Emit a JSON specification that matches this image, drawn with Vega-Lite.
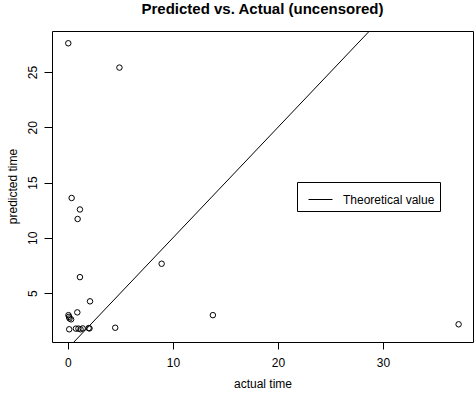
{
  "$schema": "https://vega.github.io/schema/vega-lite/v6.json",
  "width": 421,
  "height": 311,
  "autosize": "none",
  "padding": {"left": 52, "top": 31, "right": 1, "bottom": 52},
  "background": "white",
  "title": {
    "text": "Predicted vs. Actual (uncensored)",
    "font": "Liberation Sans",
    "fontSize": 15,
    "fontWeight": "bold",
    "color": "black",
    "anchor": "middle",
    "baseline": "alphabetic",
    "offset": 2
  },
  "config": {
    "view": {"stroke": "black", "strokeWidth": 1},
    "font": "Liberation Sans",
    "axis": {
      "domain": false,
      "grid": false,
      "tickColor": "black",
      "labelColor": "black",
      "titleColor": "black",
      "labelFont": "Liberation Sans",
      "titleFont": "Liberation Sans",
      "labelFontSize": 12,
      "titleFontSize": 12,
      "titleFontWeight": "normal"
    }
  },
  "layer": [
    {
      "data": {"values": [
        {"actual": -5, "predicted": -5},
        {"actual": 45, "predicted": 45}
      ]},
      "mark": {"type": "line", "clip": true, "strokeWidth": 1},
      "encoding": {
        "x": {"field": "actual", "type": "quantitative"},
        "y": {"field": "predicted", "type": "quantitative"},
        "stroke": {
          "datum": "Theoretical value",
          "type": "nominal",
          "scale": {"range": ["black"]},
          "legend": {
            "title": null,
            "orient": "none",
            "legendX": 245,
            "legendY": 151,
            "direction": "vertical",
            "strokeColor": "black",
            "padding": 5,
            "symbolType": "stroke",
            "symbolSize": 576,
            "symbolOffset": 6,
            "symbolStrokeWidth": 1,
            "labelFontSize": 12,
            "labelColor": "black",
            "labelFont": "Liberation Sans",
            "labelOffset": 10,
            "cornerRadius": 0
          }
        }
      }
    },
    {
      "data": {"values": [
        {"actual": 0.03, "predicted": 27.6},
        {"actual": 4.9, "predicted": 25.4},
        {"actual": 0.35, "predicted": 13.6},
        {"actual": 1.14, "predicted": 12.56},
        {"actual": 0.92, "predicted": 11.7},
        {"actual": 1.14, "predicted": 6.44},
        {"actual": 8.92, "predicted": 7.65},
        {"actual": 2.1, "predicted": 4.25},
        {"actual": 0.89, "predicted": 3.25},
        {"actual": 0.05, "predicted": 3.0},
        {"actual": 0.1, "predicted": 2.85},
        {"actual": 0.15, "predicted": 2.7},
        {"actual": 0.3, "predicted": 2.62},
        {"actual": 0.12, "predicted": 1.72},
        {"actual": 0.76, "predicted": 1.78},
        {"actual": 1.0, "predicted": 1.78},
        {"actual": 1.2, "predicted": 1.72},
        {"actual": 1.4, "predicted": 1.8},
        {"actual": 1.97, "predicted": 1.83},
        {"actual": 2.05, "predicted": 1.8},
        {"actual": 4.5, "predicted": 1.86},
        {"actual": 13.8, "predicted": 3.0},
        {"actual": 37.2, "predicted": 2.17}
      ]},
      "mark": {"type": "point", "shape": "circle", "filled": false, "color": "black", "size": 30, "strokeWidth": 1, "opacity": 1},
      "encoding": {
        "x": {
          "field": "actual",
          "type": "quantitative",
          "scale": {"domain": [-1.52, 38.57], "nice": false, "zero": false},
          "axis": {
            "title": "actual time",
            "values": [0, 10, 20, 30],
            "tickSize": 7,
            "labelPadding": 8,
            "labelBaseline": "top",
            "titleY": 41,
            "titleBaseline": "middle",
            "titleAnchor": "middle"
          }
        },
        "y": {
          "field": "predicted",
          "type": "quantitative",
          "scale": {"domain": [0.57, 28.71], "nice": false, "zero": false},
          "axis": {
            "title": "predicted time",
            "values": [5, 10, 15, 20, 25],
            "tickSize": 8,
            "labelAngle": -90,
            "labelAlign": "center",
            "labelBaseline": "bottom",
            "labelPadding": 5,
            "titleX": -40,
            "titleY": 155,
            "titleAngle": -90,
            "titleAlign": "center",
            "titleBaseline": "middle"
          }
        }
      }
    }
  ]
}
